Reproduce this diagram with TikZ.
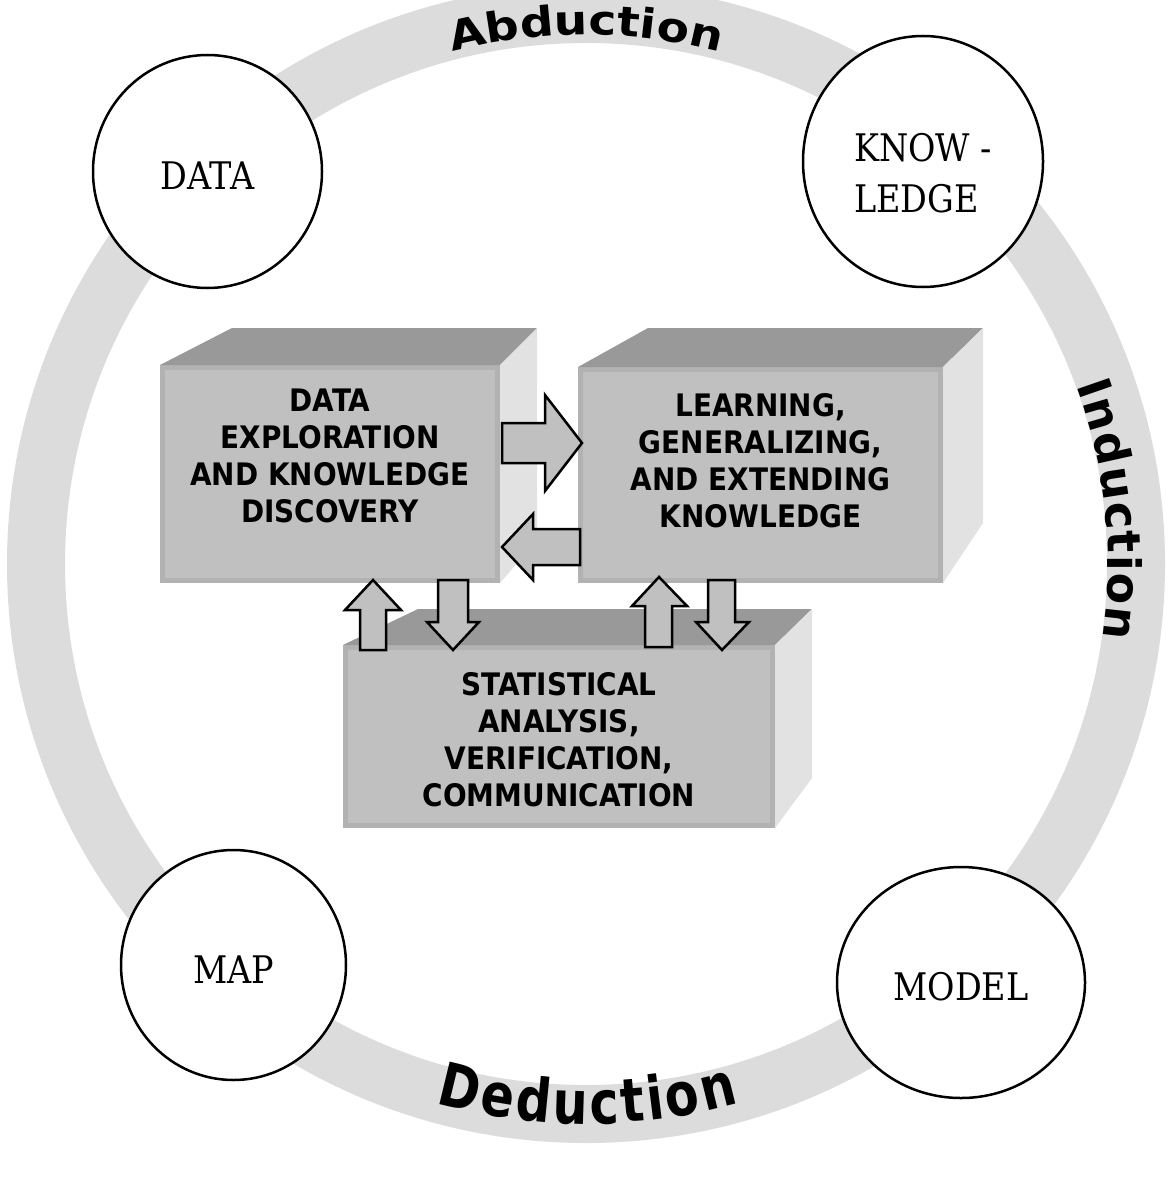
\documentclass[tikz,border=0pt]{standalone}
\usepackage{fontspec}
\setmainfont[FakeStretch=0.88]{DejaVu Serif}
\newfontfamily\boxfont[FakeStretch=0.9]{DejaVu Sans}
\newfontfamily\ringfont{DejaVu Sans}
\newfontfamily\ringwide[FakeStretch=1.15]{DejaVu Sans}
\newfontfamily\ringtall[FakeStretch=0.82]{DejaVu Sans}
\usetikzlibrary{shapes.geometric,positioning,decorations.text}

\definecolor{ringgray}{HTML}{DCDCDC}
\definecolor{frontgray}{HTML}{C0C0C0}
\definecolor{topgray}{HTML}{999999}
\definecolor{sidegray}{HTML}{E2E2E2}
\definecolor{edgegray}{HTML}{B2B2B2}

\tikzset{
  stage/.style={draw, ellipse, fill=white, line width=2.5pt, inner sep=0pt, text height=37pt, font=\fontsize{38}{51}\selectfont},
  front/.style={rectangle, fill=frontgray, draw=edgegray, line width=5pt, inner sep=0pt},
  topface/.style={fill=topgray},
  sideface/.style={fill=sidegray},
  boxtext/.style={align=center, font=\boxfont\bfseries\fontsize{31}{37}\selectfont},
  blockarrow/.style={draw, fill=frontgray, line width=2.5pt, line join=miter},
}

\begin{document}
\begin{tikzpicture}[x=1pt, y=-1pt]
\useasboundingbox (0,0) rectangle (1171,1198);
\fill[white] (0,0) rectangle (1171,1198);

% ring
\coordinate (ringctr) at (586,564);
\draw[ringgray, line width=58pt] (ringctr) circle[radius=550];

% words on the ring
\path[decorate, decoration={text along path, text align=center,
  text={|\ringwide\bfseries\fontsize{41}{41}\selectfont|Abduction}}]
  ([shift={(250:529)}]ringctr) arc[start angle=250, end angle=290, radius=529];
\path[decorate, decoration={text along path, text align=center,
  text={|\ringfont\bfseries\fontsize{46}{46}\selectfont\kern1.5pt|Induction}}]
  ([shift={(-30:522)}]ringctr) arc[start angle=-30, end angle=18, radius=522];
\path[decorate, decoration={text along path, text align=center,
  text={|\ringtall\bfseries\fontsize{60}{60}\selectfont\kern3pt|Deduction}}]
  ([shift={(110:560)}]ringctr) arc[start angle=110, end angle=70, radius=560];

% stages
\node[stage, minimum width=229pt, minimum height=233pt] (data) at (207.5,171.5) {DATA};
\node[stage, minimum width=240pt, minimum height=251pt, align=left, text height=103pt] (knowledge) at (923,161.5) {KNOW -\\LEDGE};
\node[stage, minimum width=225pt, minimum height=230pt] (map) at (233.5,965) {MAP};
\node[stage, minimum width=248pt, minimum height=231pt] (model) at (961,982.5) {MODEL};

% exploration box
\node[front, minimum width=335pt, minimum height=213pt] (explore) at (330,474) {};
\fill[topface] (explore.north west) -- ++(72,-37) -- ([shift={(37,-37)}]explore.north east) -- (explore.north east) -- cycle;
\fill[sideface] (explore.north east) -- ++(37,-37) -- ([shift={(37,-43)}]explore.south east) -- (explore.south east) -- cycle;
\node[boxtext] (exploretext) at ([yshift=18pt]explore.center) {DATA\\EXPLORATION\\AND KNOWLEDGE\\DISCOVERY};

% learning box
\node[front, minimum width=360pt, minimum height=211pt] (learn) at (760.5,475) {};
\fill[topface] (learn.north west) -- ++(70,-39) -- ([shift={(40,-39)}]learn.north east) -- (learn.north east) -- cycle;
\fill[sideface] (learn.north east) -- ++(40,-39) -- ([shift={(40,-60)}]learn.south east) -- (learn.south east) -- cycle;
\node[boxtext] (learntext) at ([yshift=14pt]learn.center) {LEARNING,\\GENERALIZING,\\AND EXTENDING\\KNOWLEDGE};

% statistics box
\node[front, minimum width=427pt, minimum height=178pt] (stats) at (559,736.5) {};
\fill[topface] (stats.north west) -- ++(75,-36) -- ([shift={(37,-36)}]stats.north east) -- (stats.north east) -- cycle;
\fill[sideface] (stats.north east) -- ++(37,-36) -- ([shift={(37,-50)}]stats.south east) -- (stats.south east) -- cycle;
\node[boxtext] (statstext) at ([yshift=-3pt]stats.center) {STATISTICAL\\ANALYSIS,\\VERIFICATION,\\COMMUNICATION};

% arrows between boxes
\draw[blockarrow] (502,423) -- (545,423) -- (545,395) -- (582,443) -- (545,491) -- (545,463) -- (502,463) -- cycle;
\draw[blockarrow] (580,529) -- (533,529) -- (533,514) -- (502,547) -- (533,580) -- (533,565) -- (580,565) -- cycle;
\draw[blockarrow] (360,650) -- (360,610) -- (345,610) -- (373,580) -- (401,610) -- (386,610) -- (386,650) -- cycle;
\draw[blockarrow] (438,580) -- (438,622) -- (427,622) -- (453,650) -- (479,622) -- (468,622) -- (468,580) -- cycle;
\draw[blockarrow] (645,647) -- (645,606) -- (632,606) -- (659,577) -- (687,606) -- (672,606) -- (672,647) -- cycle;
\draw[blockarrow] (708,580) -- (708,622) -- (696,622) -- (722,650) -- (749,622) -- (735,622) -- (735,580) -- cycle;
\end{tikzpicture}
\end{document}
